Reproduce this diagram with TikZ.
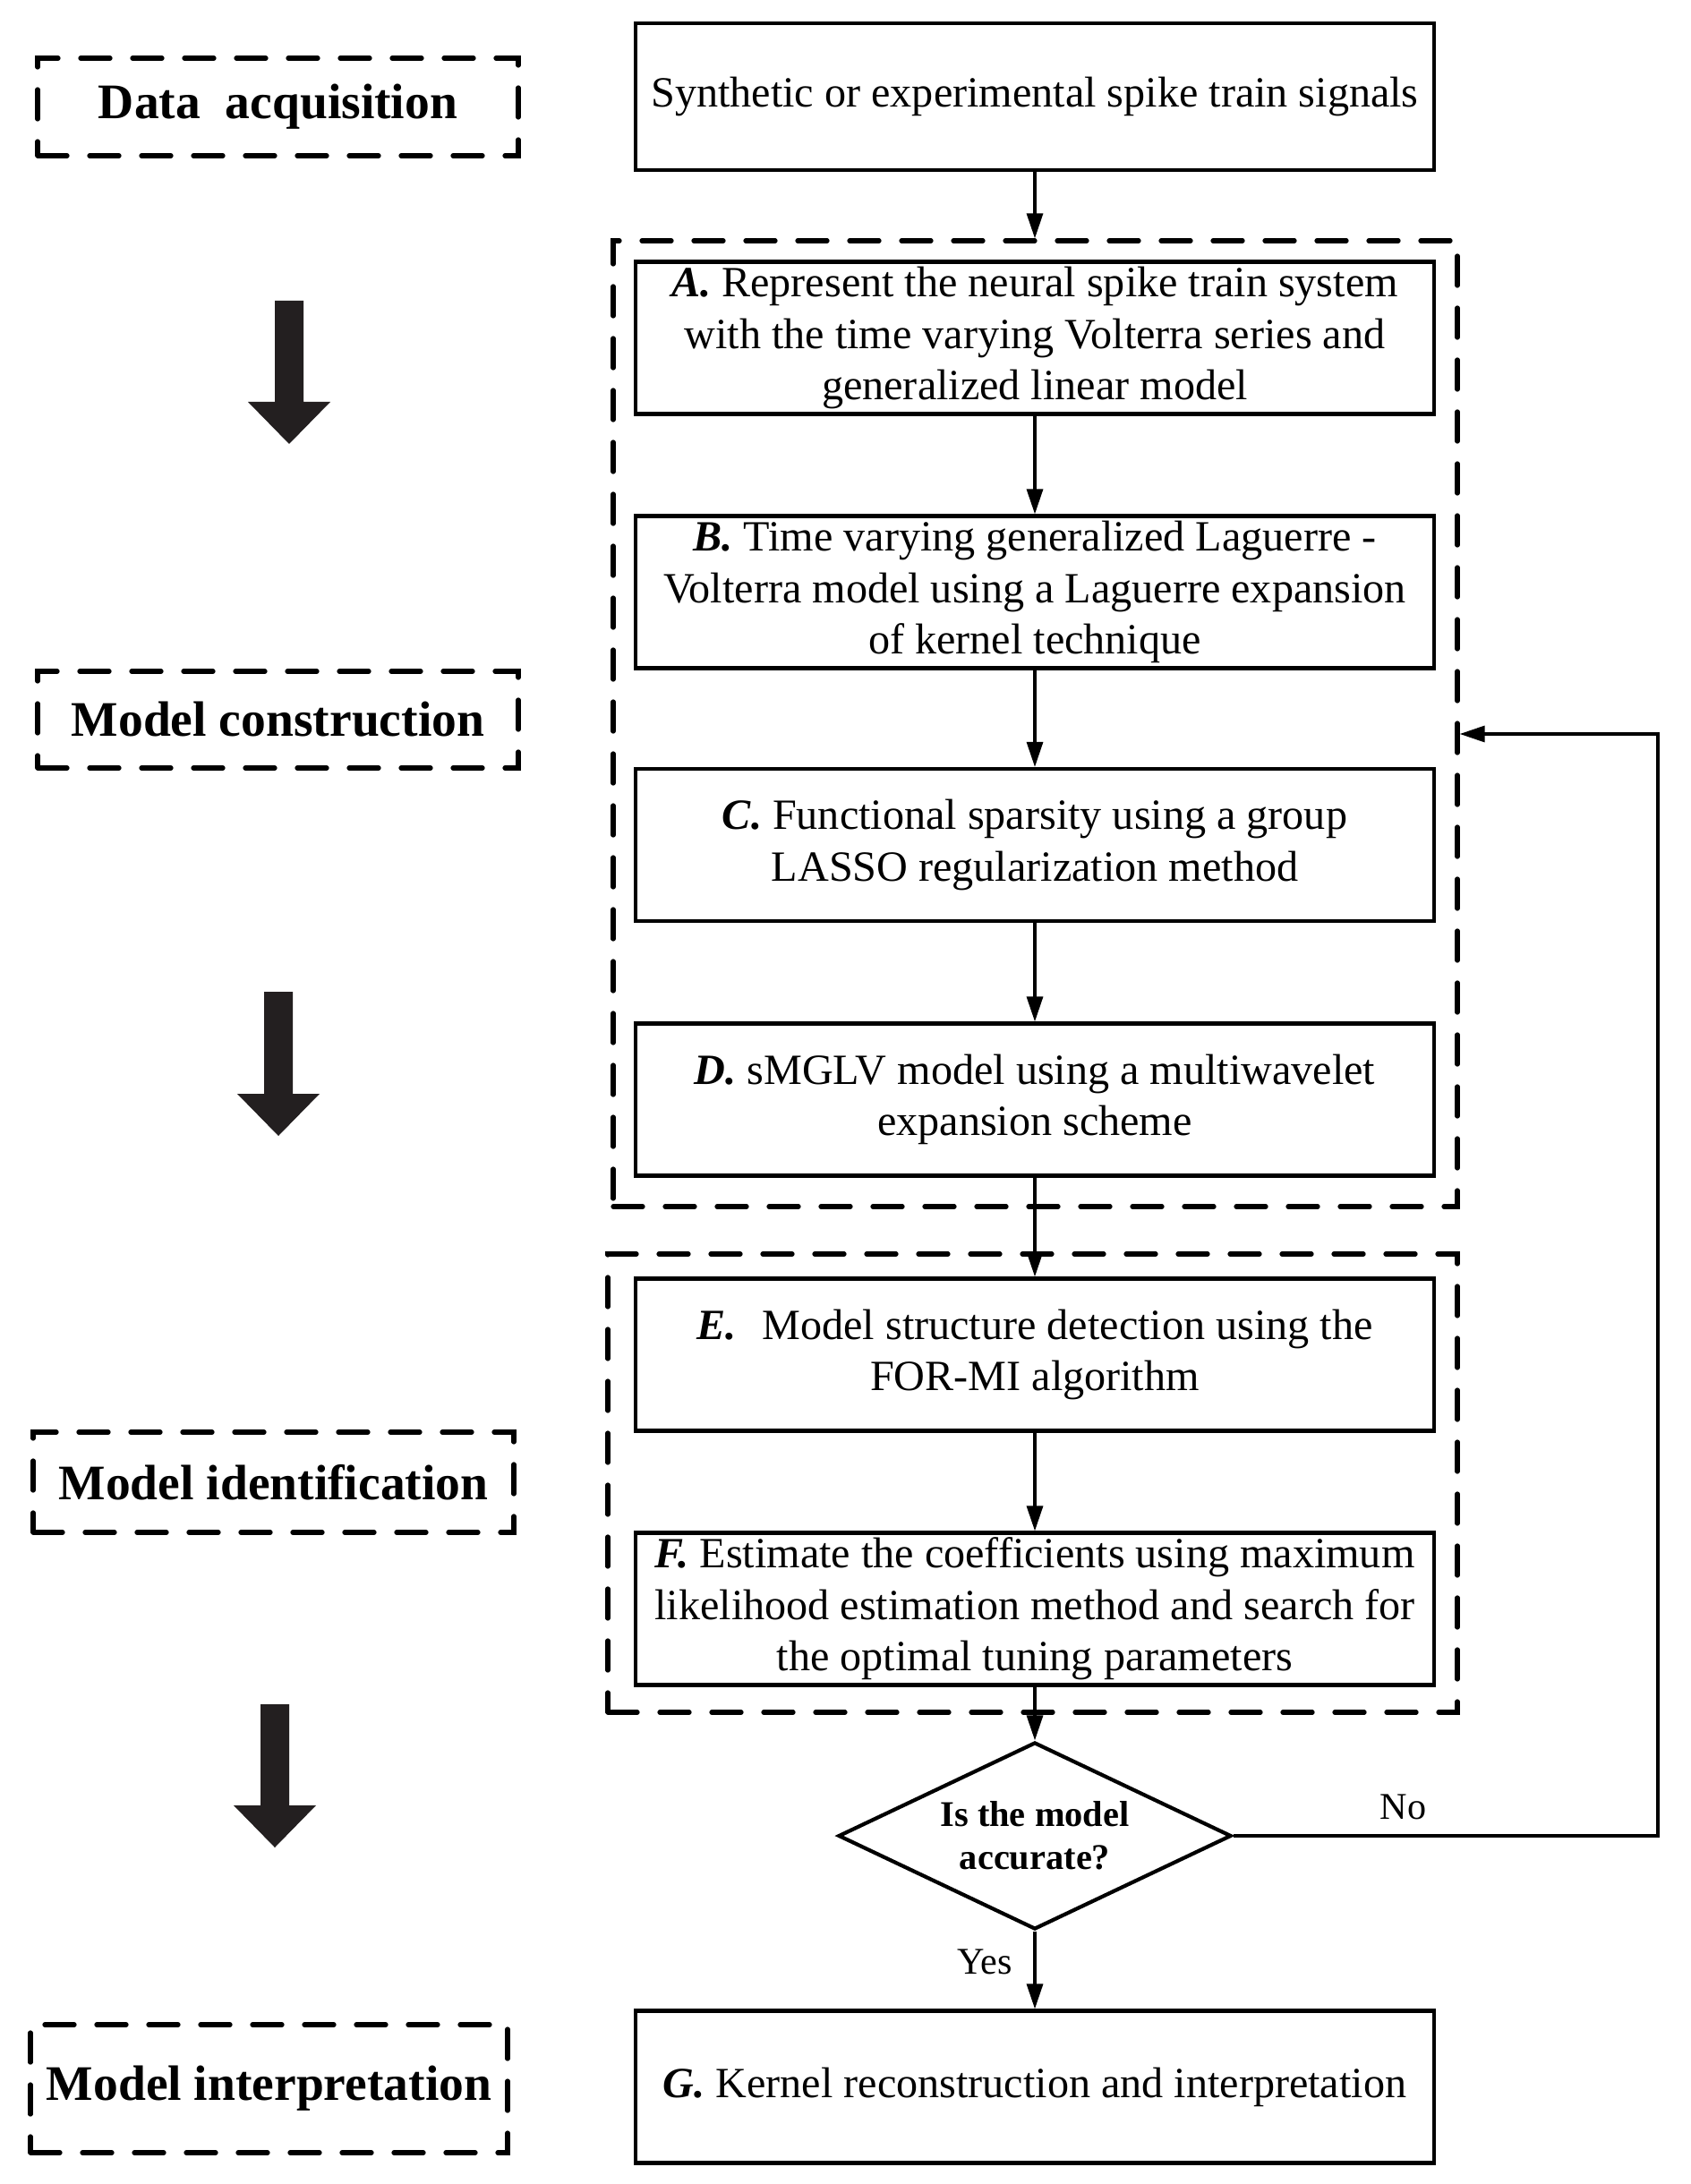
\documentclass[tikz,border=0pt]{standalone}
\usepackage{fontspec}
\setmainfont{Liberation Serif}
\usetikzlibrary{shapes.geometric,arrows.meta}

\definecolor{arrowfill}{HTML}{231F20}

\tikzset{
  stepbox/.style={draw, line width=1.2pt, minimum width=8.92cm, minimum height=1.7cm,
    inner sep=0pt, align=center, font=\fontsize{13.7}{16.4}\selectfont},
  stagebox/.style={draw, line width=1.5pt, line cap=round, dash pattern=on 0.33cm off 0.25cm,
    inner sep=0pt, align=center, font=\fontsize{15.8}{18}\selectfont\bfseries},
  groupbox/.style={draw, line width=1.5pt, line cap=round, dash pattern=on 0.33cm off 0.25cm,
    inner sep=0pt},
  flow/.style={-{Triangle[length=0.28cm,width=0.18cm]}, line width=0.9pt},
}
\newcommand{\steplbl}[1]{\textbf{\textit{#1}}}

\begin{document}
\begin{tikzpicture}[line join=miter,x=1cm,y=1cm]
  \useasboundingbox (0,0) rectangle (18.88,-24.40);

  % stages on the left
  \node[stagebox, minimum width=5.37cm, minimum height=1.09cm] (dacq)   at (3.105,-1.195) {Data\hspace{0.5em}acquisition};
  \node[stagebox, minimum width=5.37cm, minimum height=1.08cm] (mcons)  at (3.105,-8.04)  {Model construction};
  \node[stagebox, minimum width=5.37cm, minimum height=1.12cm] (mident) at (3.055,-16.56) {Model identification};
  \node[stagebox, minimum width=5.33cm, minimum height=1.43cm] (minter) at (3.005,-23.335) {Model interpretation};

  % big arrows between the stages
  \foreach \cx/\ty/\hy in {3.23/-3.36/-4.96, 3.11/-11.08/-12.69, 3.07/-19.04/-20.64}
    \fill[arrowfill] (\cx-0.16,\ty) -- (\cx+0.16,\ty) -- (\cx+0.16,\hy+0.47) -- (\cx+0.46,\hy+0.47)
      -- (\cx,\hy) -- (\cx-0.46,\hy+0.47) -- (\cx-0.16,\hy+0.47) -- cycle;

  % dashed groups
  \node[groupbox, minimum width=9.43cm, minimum height=10.79cm] (grp1) at (11.565,-8.085) {};
  \node[groupbox, minimum width=9.49cm, minimum height=5.12cm]  (grp2) at (11.535,-16.57) {};

  % steps
  \node[stepbox, minimum height=1.64cm] (src) at (11.56,-1.08) {Synthetic or experimental spike train signals};
  \node[stepbox] (stA) at (11.56,-3.775) {\steplbl{A.} Represent the neural spike train system\\with the time varying Volterra series and\\generalized linear model};
  \node[stepbox] (stB) at (11.56,-6.615) {\steplbl{B.} Time varying generalized Laguerre -\\Volterra model using a Laguerre expansion\\of kernel technique};
  \node[stepbox] (stC) at (11.56,-9.44) {\steplbl{C.} Functional sparsity using a group\\LASSO regularization method};
  \node[stepbox] (stD) at (11.56,-12.285) {\steplbl{D.} sMGLV model using a multiwavelet\\expansion scheme};
  \node[stepbox] (stE) at (11.56,-15.135) {\steplbl{E.}\hspace{0.6em}Model structure detection using the\\FOR-MI algorithm};
  \node[stepbox] (stF) at (11.56,-17.975) {\steplbl{F.} Estimate the coefficients using maximum\\likelihood estimation method and search for\\the optimal tuning parameters};
  \node[draw, diamond, line width=1.2pt, aspect=2.1, inner sep=0pt, minimum width=4.39cm, minimum height=2.09cm,
    align=center, font=\fontsize{11.5}{13.7}\selectfont\bfseries] (dec) at (11.56,-20.51) {Is the model\\accurate?};
  \node[stepbox] (stG) at (11.56,-23.315) {\steplbl{G.} Kernel reconstruction and interpretation};

  % connectors
  \draw[flow] (src.south) -- (src.south |- grp1.north);
  \draw[flow] (stA) -- (stB);
  \draw[flow] (stB) -- (stC);
  \draw[flow] (stC) -- (stD);
  \draw[flow] (stD) -- (stE);
  \draw[flow] (stE) -- (stF);
  \draw[flow] (stF) -- (dec);
  \draw[flow] (dec) -- node[pos=0.4, left=0.12cm, font=\fontsize{12}{14}\selectfont] (yes) {Yes} (stG);
  \coordinate (fbcorner) at (18.52,-8.20);
  \draw[flow] (dec.east) -| node[pos=0.2, above=0.05cm, font=\fontsize{12}{14}\selectfont] (no) {No} (fbcorner)
    -- (fbcorner -| grp1.east);
\end{tikzpicture}
\end{document}
